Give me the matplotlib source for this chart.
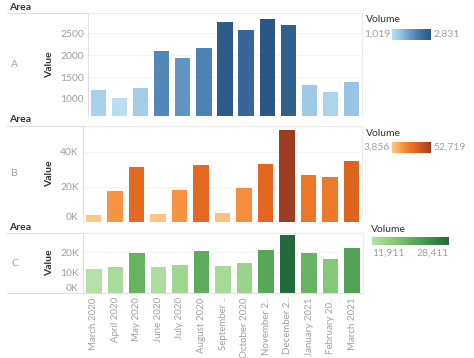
import numpy as np
import matplotlib
matplotlib.use('Agg')
import matplotlib.pyplot as plt
from matplotlib.colors import LinearSegmentedColormap, Normalize

plt.rcParams['font.family'] = ['Lato', 'DejaVu Sans']

months = ['March 2020', 'April 2020', 'May 2020', 'June 2020', 'July 2020',
          'August 2020', 'September ..', 'October 2020', 'November 2..',
          'December 2..', 'January 2021', 'February 20..', 'March 2021']

values_a = [1204, 1019, 1257, 2098, 1924, 2166, 2750, 2575, 2831, 2680, 1311, 1159, 1393]
values_b = [3856, 17500, 31600, 4600, 18300, 32400, 5200, 19200, 33100, 52719, 26800, 25500, 34700]
values_c = [11911, 13000, 19900, 12700, 14000, 20700, 13300, 14600, 21400, 28411, 19700, 16700, 22000]

areas = ['A', 'B', 'C']

blue = LinearSegmentedColormap.from_list('tb', ['#b9ddf1', '#8fbfe0', '#5f94c4', '#3e72a6', '#2a5783'])
orange = LinearSegmentedColormap.from_list('to', ['#ffc685', '#fca252', '#f07f2b', '#e2661f', '#c4511c', '#9e3d22'])
green = LinearSegmentedColormap.from_list('tg', ['#b3e0a6', '#8ccd7d', '#62b05f', '#3f8f4b', '#24693d'])

W, H = 474, 358
fig = plt.figure(figsize=(W / 100, H / 100), dpi=100)


def px_axes(x0, y0, x1, y1, **kw):
    # pixel box (top-left origin) -> figure fraction
    return fig.add_axes([x0 / W, 1 - y1 / H, (x1 - x0) / W, (y1 - y0) / H], **kw)


grey = '#a0a0a0'
dark = '#333333'
line_c = '#e0e0e0'

panels = [
    # values, cmap, plot box, ylim, ticks, ticklabels, header y
    (values_a, blue, (88, 13, 362, 116), (612, 2960), [1000, 1500, 2000, 2500],
     ['1000', '1500', '2000', '2500'], 7),
    (values_b, orange, (83, 126, 362, 222), (0, 54800), [0, 20000, 40000],
     ['0K', '20K', '40K'], 120),
    (values_c, green, (83, 233, 363, 293), (0, 29600), [0, 10000, 20000],
     ['0K', '10K', '20K'], 227),
]

x = np.arange(len(months))
for i, (vals, cmap, box, ylim, ticks, tlabels, hy) in enumerate(panels):
    vmin, vmax = min(vals), max(vals)
    norm = Normalize(vmin, vmax)
    ax = px_axes(*box)
    base = 0 if i > 0 else ylim[0]
    ax.bar(x, np.array(vals) - base, bottom=base, width=0.72,
           color=[cmap(norm(v)) for v in vals], zorder=3)
    ax.set_xlim(-0.5, len(months) - 0.5)
    ax.set_ylim(*ylim)
    ax.set_yticks(ticks)
    ax.set_yticklabels(tlabels)
    ax.tick_params(axis='y', length=0, labelsize=7.5, labelcolor=grey, pad=3)
    ax.grid(axis='y', color='#f2f2f2', linewidth=0.6, zorder=0)
    for s in ['top', 'right']:
        ax.spines[s].set_color('#ececec')
        ax.spines[s].set_linewidth(0.8)
    ax.spines['left'].set_color(line_c)
    ax.spines['left'].set_linewidth(0.8)
    ax.spines['bottom'].set_visible(False)
    ax.set_ylabel('Value', fontsize=7.5, fontweight='bold', color=dark, labelpad=4)
    if i > 0:
        # zero label nudged up like the original
        ax.yaxis.get_majorticklabels()[0].set_verticalalignment('bottom')
    if i == 2:
        ax.set_xticks(x)
        ax.set_xticklabels(months, rotation=90, fontsize=7, color=grey)
        ax.tick_params(axis='x', length=0, pad=3)
    else:
        ax.set_xticks([])

    # header "Area" and separator line
    fig.text(9 / W, 1 - hy / H, 'Area', fontsize=7.5, fontweight='bold', color=dark,
             va='center', ha='left')
    yline = box[1] - 0.5
    fig.add_artist(plt.Line2D([7 / W, box[0] / W], [1 - yline / H] * 2, color=line_c,
                              linewidth=0.8, transform=fig.transFigure))
    if i == 2:
        fig.add_artist(plt.Line2D([7 / W, box[2] / W], [1 - box[3] / H] * 2, color=line_c,
                                  linewidth=0.8, transform=fig.transFigure))
    fig.text(11 / W, 1 - ((box[1] + box[3]) / 2) / H, areas[i], fontsize=7.5,
             color=grey, va='center', ha='left')

    # colour legends
    grad = np.linspace(0, 1, 256)[None, :]
    if i < 2:
        lx = 366
        ly = box[1] + 7
        fig.text(lx / W, 1 - ly / H, 'Volume', fontsize=7.5, color=dark, va='center')
        cax = px_axes(392, ly + 9, 431, ly + 20)
        cax.imshow(grad, aspect='auto', cmap=cmap)
        cax.set_xticks([]); cax.set_yticks([])
        for s in cax.spines.values():
            s.set_visible(False)
        fig.text(390 / W, 1 - (ly + 14.5) / H, f'{vmin:,}', fontsize=7.5, color=grey,
                 va='center', ha='right')
        fig.text(433 / W, 1 - (ly + 14.5) / H, f'{vmax:,}', fontsize=7.5, color=grey,
                 va='center', ha='left')
    else:
        fig.text(371 / W, 1 - 229 / H, 'Volume', fontsize=7.5, color=dark, va='center')
        cax = px_axes(372, 237, 449, 245)
        cax.imshow(grad, aspect='auto', cmap=cmap)
        cax.set_xticks([]); cax.set_yticks([])
        for s in cax.spines.values():
            s.set_visible(False)
        fig.text(372 / W, 1 - 253 / H, f'{vmin:,}', fontsize=7.5, color=grey,
                 va='center', ha='left')
        fig.text(449 / W, 1 - 253 / H, f'{vmax:,}', fontsize=7.5, color=grey,
                 va='center', ha='right')

fig.savefig('out.png', dpi=100)
